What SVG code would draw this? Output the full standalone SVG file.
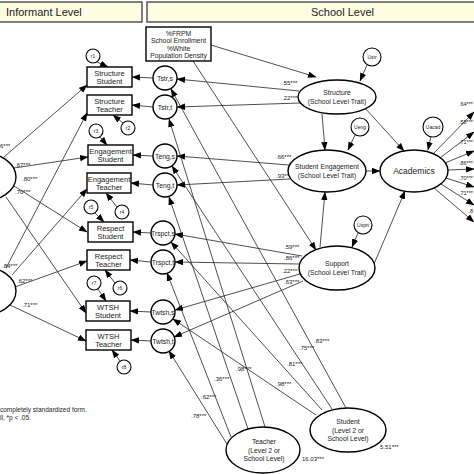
<svg xmlns="http://www.w3.org/2000/svg" width="474" height="474" viewBox="0 0 474 474">
<defs>
<marker id="ah" markerUnits="userSpaceOnUse" markerWidth="9" markerHeight="7" refX="8" refY="3.2" orient="auto"><path d="M0,0 L8.5,3.2 L0,6.4 z" fill="#000"/></marker>
<style>
.hdr{fill:#fefde2;stroke:#555;stroke-width:1.5}
.ht{font-family:"Liberation Sans",Arial,sans-serif;font-size:11px;fill:#222}
.box{fill:#fff;stroke:#000;stroke-width:1.4}
.ell{fill:#fff;stroke:#000;stroke-width:1.4}
.res{fill:#fff;stroke:#000;stroke-width:1.1}
.t{font-family:"Liberation Sans",Arial,sans-serif;font-size:7.5px;fill:#222;text-anchor:middle}
.ts{font-family:"Liberation Sans",Arial,sans-serif;font-size:6.8px;fill:#222;text-anchor:middle}
.tr{font-family:"Liberation Sans",Arial,sans-serif;font-size:5px;fill:#222;text-anchor:middle}
.lb{font-family:"Liberation Sans",Arial,sans-serif;font-size:6px;fill:#222}
.re{text-anchor:end;font-size:5.5px}
.c line{stroke:#222;stroke-width:0.8;marker-end:url(#ah)}
</style>
</defs>
<rect width="474" height="474" fill="#fff"/>
<g id="hdr-informant"><rect class="hdr" x="-2" y="2" width="144" height="20"/><text class="ht" x="6" y="16">Informant Level</text></g>
<g id="hdr-school"><rect class="hdr" x="147" y="2" width="330" height="20"/><text class="ht" x="311" y="16">School Level</text></g>

<g class="c" id="connectors">
<line x1="4" y1="157" x2="87" y2="85"/>
<line x1="14" y1="168" x2="88" y2="157"/>
<line x1="14" y1="186" x2="87" y2="232"/>
<line x1="6" y1="197" x2="86" y2="313"/>
<line x1="6" y1="268" x2="87" y2="113"/>
<line x1="12" y1="275" x2="87" y2="189"/>
<line x1="15" y1="287" x2="87" y2="261"/>
<line x1="10" y1="305" x2="86" y2="341"/>
<line x1="97" y1="62" x2="108" y2="67"/>
<line x1="123" y1="123" x2="113" y2="115"/>
<line x1="100" y1="137" x2="107" y2="145"/>
<line x1="117" y1="207" x2="106" y2="193"/>
<line x1="95" y1="213" x2="104" y2="222"/>
<line x1="115" y1="283" x2="105" y2="270"/>
<line x1="98" y1="289" x2="106" y2="301"/>
<line x1="120" y1="361" x2="112" y2="350"/>
<line x1="153" y1="78" x2="132" y2="77"/>
<line x1="153" y1="107" x2="132" y2="105"/>
<line x1="153" y1="156" x2="133" y2="155"/>
<line x1="153" y1="185" x2="131" y2="183"/>
<line x1="151" y1="233" x2="133" y2="232"/>
<line x1="151" y1="262" x2="130" y2="260"/>
<line x1="151" y1="312" x2="130" y2="311"/>
<line x1="151" y1="341" x2="131" y2="340"/>
<line x1="299" y1="91" x2="177" y2="79"/>
<line x1="300" y1="103" x2="177" y2="107"/>
<line x1="289" y1="165" x2="177" y2="156"/>
<line x1="290" y1="179" x2="177" y2="185"/>
<line x1="302" y1="256" x2="175" y2="234"/>
<line x1="299" y1="264" x2="175" y2="262"/>
<line x1="300" y1="274" x2="175" y2="310"/>
<line x1="303" y1="281" x2="174" y2="337"/>
<line x1="211" y1="45" x2="316" y2="77"/>
<line x1="193" y1="61" x2="316" y2="250"/>
<line x1="322" y1="114" x2="325" y2="150"/>
<line x1="365" y1="108" x2="404" y2="151"/>
<line x1="366" y1="171" x2="380" y2="171"/>
<line x1="320" y1="247" x2="325" y2="192"/>
<line x1="374" y1="264" x2="405" y2="191"/>
<line x1="367" y1="65" x2="360" y2="81"/>
<line x1="355" y1="135" x2="348" y2="150"/>
<line x1="431" y1="136" x2="428" y2="150"/>
<line x1="358" y1="233" x2="352" y2="247"/>
<line x1="433" y1="154" x2="474" y2="112"/>
<line x1="440" y1="158" x2="474" y2="132"/>
<line x1="445" y1="163" x2="474" y2="151"/>
<line x1="448" y1="170" x2="474" y2="169"/>
<line x1="446" y1="178" x2="474" y2="187"/>
<line x1="441" y1="184" x2="474" y2="205"/>
<line x1="434" y1="188" x2="474" y2="222"/>
<line x1="346" y1="408" x2="171" y2="89"/>
<line x1="332" y1="409" x2="172" y2="166"/>
<line x1="322" y1="410" x2="171" y2="242"/>
<line x1="316" y1="415" x2="173" y2="319"/>
<line x1="265" y1="427" x2="169" y2="119"/>
<line x1="248" y1="429" x2="169" y2="197"/>
<line x1="231" y1="437" x2="167" y2="273"/>
<line x1="227" y1="444" x2="169" y2="351"/>
</g>

<g id="labels">
<text class="lb" x="0" y="148">6***</text>
<text class="lb" x="15" y="167">.67***</text>
<text class="lb" x="22" y="181">.80***</text>
<text class="lb" x="15" y="194">.70***</text>
<text class="lb" x="2" y="268">.84***</text>
<text class="lb" x="17" y="283">.62***</text>
<text class="lb" x="22" y="307">.71***</text>
<text class="lb" x="282" y="85">.55***</text>
<text class="lb" x="282" y="100">.22***</text>
<text class="lb" x="276" y="159">.66***</text>
<text class="lb" x="276" y="178">.93***</text>
<text class="lb" x="284" y="249">.59***</text>
<text class="lb" x="284" y="260">.86***</text>
<text class="lb" x="282" y="273">.22***</text>
<text class="lb" x="284" y="284">.63***</text>
<text class="lb re" x="473" y="106">.64***</text>
<text class="lb re" x="473" y="124">.58***</text>
<text class="lb re" x="473" y="144">.71***</text>
<text class="lb re" x="473" y="165">.86***</text>
<text class="lb re" x="473" y="180">.70***</text>
<text class="lb re" x="473" y="195">.71***</text>
<text class="lb re" x="473" y="213">.8</text>
<text class="lb" x="314" y="343">.83***</text>
<text class="lb" x="299" y="350">.75***</text>
<text class="lb" x="287" y="366">.81***</text>
<text class="lb" x="276" y="386">.98***</text>
<text class="lb" x="236" y="371">.98***</text>
<text class="lb" x="214" y="381">.36***</text>
<text class="lb" x="201" y="399">.62***</text>
<text class="lb" x="191" y="418">.78***</text>
<text class="lb" x="302" y="461">16.03***</text>
<text class="lb" x="380" y="449">5.51***</text>
<text class="lb" x="0" y="412" style="font-size:6.5px">completely standardized form.</text>
<text class="lb" x="0" y="420" style="font-size:6.5px">ll, *p &lt; .05.</text>
</g>

<g id="f-student-informant"><ellipse class="ell" cx="-20" cy="177" rx="36" ry="25"/></g>
<g id="f-teacher-informant"><ellipse class="ell" cx="-20" cy="291" rx="36" ry="25"/></g>

<g id="demog"><rect class="box" x="146" y="27" width="65" height="34"/>
<text class="ts" x="178.5" y="35.5">%FRPM</text><text class="ts" x="178.5" y="43">School Enrollment</text><text class="ts" x="178.5" y="50.5">%White</text><text class="ts" x="178.5" y="58">Population Density</text></g>

<g id="b-str-s"><rect class="box" x="87" y="67" width="45" height="20"/><text class="t" x="109.5" y="75.5">Structure</text><text class="t" x="109.5" y="84">Student</text></g>
<g id="b-str-t"><rect class="box" x="87" y="95" width="45" height="20"/><text class="t" x="109.5" y="103.5">Structure</text><text class="t" x="109.5" y="112">Teacher</text></g>
<g id="b-eng-s"><rect class="box" x="88" y="145" width="45" height="20"/><text class="t" x="110.5" y="153.5">Engagement</text><text class="t" x="110.5" y="162">Student</text></g>
<g id="b-eng-t"><rect class="box" x="87" y="173" width="44" height="20"/><text class="t" x="109" y="181.5">Engagement</text><text class="t" x="109" y="190">Teacher</text></g>
<g id="b-rsp-s"><rect class="box" x="88" y="222" width="45" height="20"/><text class="t" x="110.5" y="230.5">Respect</text><text class="t" x="110.5" y="239">Student</text></g>
<g id="b-rsp-t"><rect class="box" x="87" y="250" width="43" height="20"/><text class="t" x="108.5" y="258.5">Respect</text><text class="t" x="108.5" y="267">Teacher</text></g>
<g id="b-wt-s"><rect class="box" x="86" y="301" width="44" height="20"/><text class="t" x="108" y="309.5">WTSH</text><text class="t" x="108" y="318">Student</text></g>
<g id="b-wt-t"><rect class="box" x="86" y="330" width="45" height="20"/><text class="t" x="108.5" y="338.5">WTSH</text><text class="t" x="108.5" y="347">Teacher</text></g>

<g id="r1"><circle class="res" cx="93" cy="56" r="7"/><text class="tr" x="93" y="58">r1</text></g>
<g id="r2"><circle class="res" cx="128" cy="128" r="7"/><text class="tr" x="128" y="130">r2</text></g>
<g id="r3"><circle class="res" cx="96" cy="131" r="7"/><text class="tr" x="96" y="133">r3</text></g>
<g id="r4"><circle class="res" cx="122" cy="212" r="7"/><text class="tr" x="122" y="214">r4</text></g>
<g id="r5"><circle class="res" cx="91" cy="207" r="7"/><text class="tr" x="91" y="209">r5</text></g>
<g id="r6"><circle class="res" cx="120" cy="288" r="7"/><text class="tr" x="120" y="290">r6</text></g>
<g id="r7"><circle class="res" cx="94" cy="283" r="7"/><text class="tr" x="94" y="285">r7</text></g>
<g id="r8"><circle class="res" cx="124" cy="367" r="7"/><text class="tr" x="124" y="369">r8</text></g>

<g id="tstr-s"><circle class="ell" cx="165" cy="78" r="12"/><text class="ts" x="165" y="80.5">Tstr,s</text></g>
<g id="tstr-t"><circle class="ell" cx="165" cy="107" r="12"/><text class="ts" x="165" y="109.5">Tstr,t</text></g>
<g id="teng-s"><circle class="ell" cx="165" cy="156" r="12"/><text class="ts" x="165" y="158.5">Teng,s</text></g>
<g id="teng-t"><circle class="ell" cx="165" cy="185" r="12"/><text class="ts" x="165" y="187.5">Teng,t</text></g>
<g id="trspct-s"><circle class="ell" cx="163" cy="233" r="12"/><text class="ts" x="163" y="235.5">Trspct,s</text></g>
<g id="trspct-t"><circle class="ell" cx="163" cy="262" r="12"/><text class="ts" x="163" y="264.5">Trspct,t</text></g>
<g id="twtsh-s"><circle class="ell" cx="163" cy="312" r="12"/><text class="ts" x="163" y="314.5">Twtsh,s</text></g>
<g id="twtsh-t"><circle class="ell" cx="163" cy="341" r="12"/><text class="ts" x="163" y="343.5">Twtsh,t</text></g>

<g id="structure"><ellipse class="ell" cx="337" cy="97" rx="39" ry="17"/><text class="ts" x="337" y="95">Structure</text><text class="ts" x="337" y="103.5">(School Level Trait)</text></g>
<g id="engagement"><ellipse class="ell" cx="327" cy="171" rx="39" ry="21"/><text class="ts" x="327" y="169">Student Engagement</text><text class="ts" x="327" y="177.5">(School Level Trait)</text></g>
<g id="academics"><ellipse class="ell" cx="414" cy="171" rx="34" ry="21"/><text class="t" x="414" y="174" style="font-size:8.5px">Academics</text></g>
<g id="support"><ellipse class="ell" cx="337" cy="268" rx="38" ry="22"/><text class="ts" x="337" y="266">Support</text><text class="ts" x="337" y="274.5">(School Level Trait)</text></g>
<g id="ustr"><circle class="res" cx="372" cy="57" r="9"/><text class="tr" x="372" y="59">Ustr</text></g>
<g id="ueng"><circle class="res" cx="360" cy="127" r="9"/><text class="tr" x="360" y="129">Ueng</text></g>
<g id="uacad"><circle class="res" cx="433" cy="127" r="10"/><text class="tr" x="433" y="129">Uacad</text></g>
<g id="usprt"><circle class="res" cx="363" cy="225" r="9"/><text class="tr" x="363" y="227">Usprt</text></g>

<g id="teacher"><ellipse class="ell" cx="263" cy="450" rx="37" ry="23"/><text class="ts" x="264" y="444">Teacher</text><text class="ts" x="264" y="452.5">(Level 2 or</text><text class="ts" x="264" y="461">School Level)</text></g>
<g id="student"><ellipse class="ell" cx="348" cy="430" rx="38" ry="22"/><text class="ts" x="348" y="424">Student</text><text class="ts" x="348" y="432.5">(Level 2 or</text><text class="ts" x="348" y="441">School Level)</text></g>
</svg>
